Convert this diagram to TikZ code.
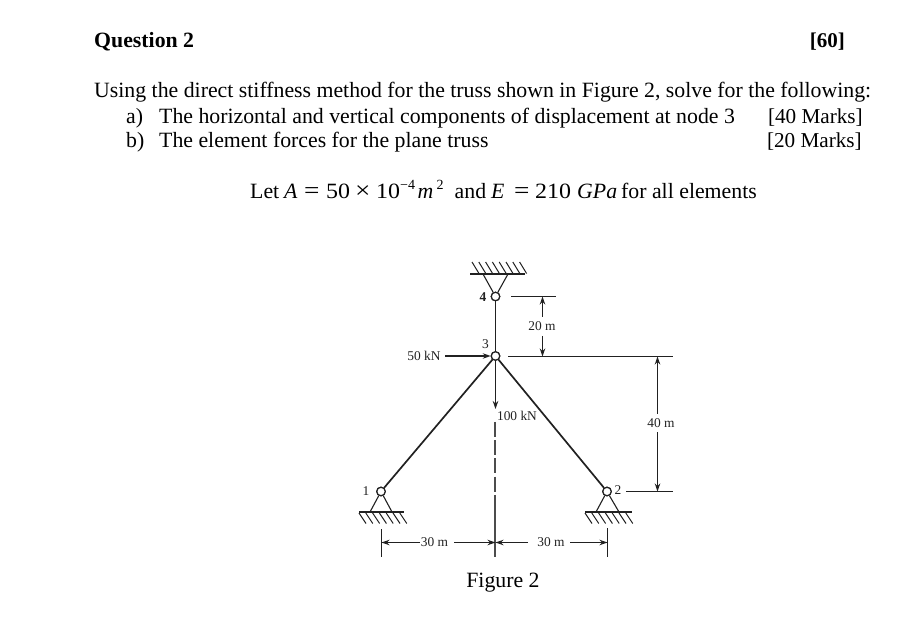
\documentclass[tikz,border=0pt]{standalone}
\usepackage{fontspec}
\usepackage{graphicx}
\setmainfont{Liberation Serif}
\usetikzlibrary{arrows.meta}
\definecolor{ink}{gray}{0.13}
\definecolor{dashink}{gray}{0.3}
\newcommand{\piece}[2]{\makebox[#1pt][l]{#2}}
\newcommand{\wdig}[1]{\scalebox{1.1}[1]{#1}}
\newcommand{\wsym}[1]{\scalebox{1.25}[1.1]{#1}}
\tikzset{
  x=1pt,y=-1pt,
  txt/.style={inner sep=0pt,anchor=base west,font=\fontsize{21.8}{24}\selectfont,text=black},
  txtb/.style={inner sep=0pt,anchor=base east,font=\fontsize{21.2}{24}\selectfont,text=black},
  lab/.style={inner sep=0pt,font=\fontsize{13.4}{15}\selectfont,text=ink},
  pin/.style={circle,draw=ink,fill=white,line width=1.2pt,minimum size=8.5pt,inner sep=0pt},
  member/.style={draw=ink,line width=1.7pt},
  thin line/.style={draw=ink,line width=1.1pt},
  dim/.style={draw=ink,line width=1.1pt,-{Stealth[length=8pt,width=5.5pt]}},
  hatchline/.style={draw=ink,line width=1pt},
  ground/.style={draw=ink,line width=1.6pt}
}
\begin{document}
\begin{tikzpicture}
\useasboundingbox (0,0) rectangle (913,617);
% text
\node[txt] (q) at (94,48) {\textbf{Question 2}};
\node[txtb,font=\fontsize{21}{24}\selectfont] (m) at (845,48) {\textbf{[60]}};
\node[txt] (l1) at (94,98) {Using the direct stiffness method for the truss shown in Figure 2, solve for the following:};
\node[txt] (l2) at (126,124) {\piece{33}{a)}The horizontal and vertical components of displacement at node 3};
\node[txtb] (l2m) at (863,124) {[40 Marks]};
\node[txt] (l3) at (126,148) {\piece{33}{b)}The element forces for the plane truss};
\node[txtb] (l3m) at (862,148) {[20 Marks]};
\node[txt] (l4) at (250,199) {\piece{34}{Let}\piece{20}{\textit{A}}\piece{22}{\wsym{=}}\piece{29}{\wdig{50}}\piece{21}{\wsym{×}}\piece{24}{\wdig{10}}\piece{17.5}{\raisebox{0.42em}{\fontsize{14}{16}\selectfont −4}}\piece{19}{\textit{m}}\piece{18}{\raisebox{0.42em}{\fontsize{14}{16}\selectfont 2}}\piece{36.5}{and}\piece{23}{\textit{E}}\piece{21}{\wsym{=}}\piece{42}{\wdig{210}}\piece{44}{\textit{GPa}}for all elements};
\node[txt,anchor=base] (fig) at (503,587) {Figure 2};

% pins
\node[pin] (n4) at (495.5,296.5) {};
\node[pin] (n3) at (495.5,356) {};
\node[pin] (n1) at (381,491.5) {};
\node[pin] (n2) at (607,491.5) {};

% named points
\coordinate (t0) at (470,274); \coordinate (t1) at (525,274);
\coordinate (ta) at (483,274); \coordinate (tb) at (508,274);
\coordinate (la) at (359,512); \coordinate (lb) at (404,512);
\coordinate (lc) at (370,512); \coordinate (ld) at (392,512);
\coordinate (ra) at (585,512); \coordinate (rb) at (632,512);
\coordinate (rc) at (596,512); \coordinate (rd) at (619,512);

% members
\path[member] (n4) -- (n3);
\path[member] (n3) -- (n1);
\path[member] (n3) -- (n2);

% supports
\path[ground] (t0) -- (t1);
\path[ground] (la) -- (lb);
\path[ground] (ra) -- (rb);
\path[thin line] (ta) -- (n4) -- (tb);
\path[thin line] (lc) -- (n1) -- (ld);
\path[thin line] (rc) -- (n2) -- (rd);
\foreach \i in {0,...,7} \path[hatchline] ({472+\i*6.8},262) -- ++(7,11.5);
\foreach \i in {0,...,6} \path[hatchline] ({359+\i*6.8},513) -- ++(7,10.5);
\foreach \i in {0,...,6} \path[hatchline] ({585+\i*6.8},513) -- ++(7,10.5);
\node[pin] at (n4) {};
\node[pin] at (n3) {};
\node[pin] at (n1) {};
\node[pin] at (n2) {};

% labels
\node[lab,font=\fontsize{13.4}{15}\bfseries\selectfont] (a4) at (483,297) {4};
\node[lab] (a3) at (485.5,344) {3};
\node[lab] (a1) at (366,491) {1};
\node[lab] (a2) at (618,490) {2};
\node[lab] (f50) at (424,356) {50 kN};
\node[lab] (f100) at (517,416) {100 kN};
\node[lab] (d20) at (542,326) {20 m};
\node[lab] (d40) at (661,423) {40 m};
\node[lab] (d30a) at (434.5,542) {30 m};
\node[lab] (d30b) at (551,542) {30 m};

% loads
\coordinate (f50s) at (445,356);
\path[dim] (f50s) -- (n3.west);
\coordinate (f100e) at (495.5,409);
\path[dim,line width=1.5pt] (n3) -- (f100e);
\coordinate (cl0) at (495.3,422); \coordinate (cl1) at (495.3,508); \coordinate (cl2) at (495.3,557);
\path[draw=dashink,line width=1.7pt,dash pattern=on 15pt off 3.2pt] (cl0) -- (cl1);
\path[draw=dashink,line width=1.7pt] (cl1) -- (cl2);

% dimension 20 m / 40 m
\coordinate (e1a) at (511,296.5); \coordinate (e1b) at (556,296.5);
\coordinate (e2a) at (508,356.5); \coordinate (e2b) at (673,356.5);
\coordinate (e3a) at (626,491.5); \coordinate (e3b) at (673,491.5);
\path[thin line] (e1a) -- (e1b);
\path[thin line] (e2a) -- (e2b);
\path[thin line] (e3a) -- (e3b);
\coordinate (s20u) at (542.5,317); \coordinate (s20d) at (542.5,336);
\path[dim] (s20u) -- (s20u |- e1a);
\path[dim] (s20d) -- (s20d |- e2a);
\coordinate (s40u) at (657.5,414); \coordinate (s40d) at (657.5,432);
\path[dim] (s40u) -- (s40u |- e2a);
\path[dim] (s40d) -- (s40d |- e3a);

% dimension 30 m
\coordinate (tl0) at (381.5,529); \coordinate (tl1) at (381.5,557);
\coordinate (tr0) at (607.5,528); \coordinate (tr1) at (607.5,557);
\path[thin line] (tl0) -- (tl1);
\path[thin line] (tr0) -- (tr1);
\coordinate (m30) at (495.5,542.5);
\coordinate (s1) at (420,542.5); \coordinate (s2) at (454,542.5);
\coordinate (s3) at (528,542.5); \coordinate (s4) at (570,542.5);
\path[dim] (s1) -- (tl0 |- s1);
\path[dim] (s2) -- (m30);
\path[dim] (s3) -- (m30);
\path[dim] (s4) -- (tr0 |- s4);
\end{tikzpicture}
\end{document}
